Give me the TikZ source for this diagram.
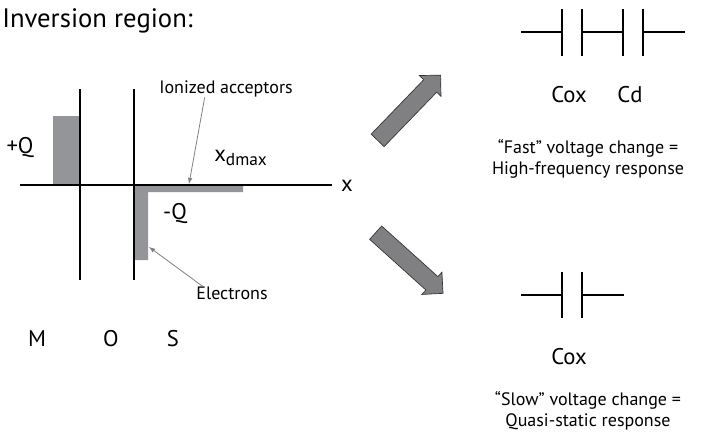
\documentclass[tikz,border=0pt]{standalone}
\usepackage{fontspec}
\setmainfont{PT Sans}
\usetikzlibrary{shapes.arrows}
\definecolor{chgray}{RGB}{148,149,152}
\definecolor{bigarrow}{RGB}{128,128,130}
\tikzset{
  axis/.style={line width=1.5pt},
  charge/.style={fill=chgray,draw=none},
  pointer/.style={->,>=latex,gray,line width=0.6pt},
  plate/.style={line width=2.2pt},
  wire/.style={line width=0.8pt},
  fat/.style={single arrow,draw=black!80,fill=bigarrow,minimum height=68pt,
    inner xsep=0pt,inner ysep=6.5pt,single arrow head extend=4.5pt,line width=0.5pt},
  lbl/.style={font=\fontsize{13.5}{15}\selectfont,inner sep=0pt},
  big/.style={font=\fontsize{17}{19}\selectfont,inner sep=0pt}
}
\begin{document}
\begin{tikzpicture}[x=0.75pt,y=-0.75pt]
\useasboundingbox (0,0) rectangle (711,436);
	\node[big,anchor=west,font=\fontsize{20}{22}\selectfont] at (2,21) (title) {Inversion region:};
	% charges
	\fill[charge] (53,116) rectangle (80,185);
	\fill[charge] (134,185) -- (243,185) -- (243,192) -- (148,192) -- (148,260) -- (134,260) -- cycle;
	% axes
	\draw[axis] (20,185) -- (332,185);
	\draw[axis] (80,89) -- (80,280);
	\draw[axis] (134,89) -- (134,280);
	\node[big] at (347,186) (x) {x};
	\node[big] at (20,148) (pq) {+Q};
	\node[big] at (175,214) (nq) {-Q};
	\node[big,anchor=west] at (214,158) (xd) {x\raisebox{-0.35ex}{\fontsize{13}{14}\selectfont dmax}};
	\node[lbl] at (226,89) (ion) {Ionized acceptors};
	\node[lbl] at (232,293) (el) {Electrons};
	\coordinate (ionend) at (189,184);
	\coordinate (elend) at (149,247);
	\draw[pointer] ([xshift=-16]ion.south) -- (ionend);
	\draw[pointer] ([xshift=-22]el.north) -- (elend);
	\node[big] at (37,339) (m) {M};
	\node[big] at (111,339) (o) {O};
	\node[big] at (173,339) (s) {S};
	% big arrows
	\node[fat,rotate=46] at (406,111) (up) {};
	\node[fat,rotate=-42] at (406,260) (down) {};
	% capacitors
	\draw[wire] (521,32) -- (562,32) (582,32) -- (623,32) (643,32) -- (685,32);
	\draw[plate] (562,9) -- (562,56) (582,9) -- (582,56) (623,9) -- (623,56) (643,9) -- (643,56);
	\draw[wire] (521,295) -- (562,295) (582,295) -- (624,295);
	\draw[plate] (562,272) -- (562,318) (582,272) -- (582,318);
	\node[big] at (569,95) (cox1) {Cox};
	\node[big] at (630,95) (cd) {Cd};
	\node[big] at (569,357) (cox2) {Cox};
	\node[lbl,align=center] at (588,159) (fast) {``Fast'' voltage change =\\[1pt]High-frequency response};
	\node[lbl,align=center] at (588,411) (slow) {``Slow'' voltage change =\\[1pt]Quasi-static response};
\end{tikzpicture}
\end{document}
